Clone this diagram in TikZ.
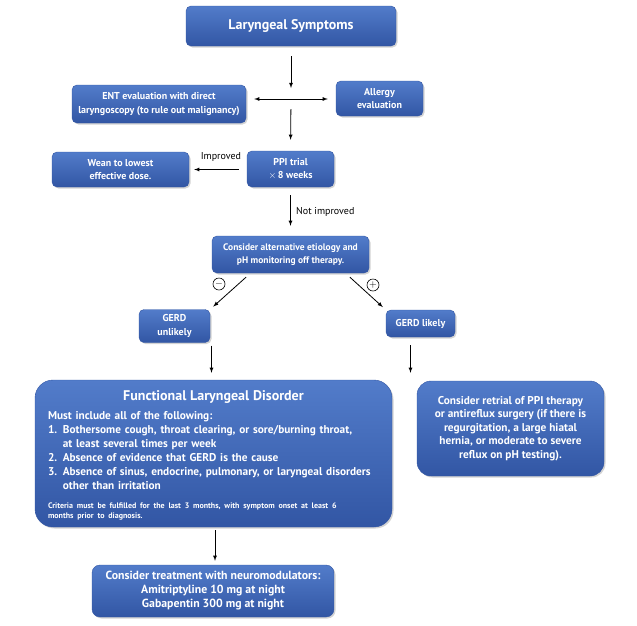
\documentclass[tikz,border=0pt]{standalone}
\usepackage{fontspec}
\setmainfont{PT Sans}
\usetikzlibrary{shadows}

\definecolor{boxtop}{RGB}{82,124,202}
\definecolor{boxbot}{RGB}{50,86,164}

\tikzset{
    flowbox/.style = {rounded corners=5pt, top color=boxtop, bottom color=boxbot,
        draw=boxbot, text=white, align=center, inner sep=0pt,
        font=\bfseries\fontsize{10}{13.5}\selectfont,
        drop shadow={shadow xshift=1.5pt, shadow yshift=-1.5pt, opacity=0.35}},
    flowarrow/.style = {-latex, line width=0.8pt},
    signnode/.style = {draw, circle, inner sep=0pt, minimum size=12pt, line width=0.6pt}
}

\begin{document}
\begin{tikzpicture}[x=1pt, y=-1pt]
    \useasboundingbox (0,0) rectangle (637,625);

    % top row
    \node [flowbox, minimum width=210pt, minimum height=40pt,
        font=\bfseries\fontsize{14}{16}\selectfont] (symptoms) at (291,26) {Laryngeal Symptoms};
    \node [flowbox, minimum width=174pt, minimum height=38pt] (ent) at (159,104)
        {ENT evaluation with direct\\laryngoscopy (to rule out malignancy)};
    \node [flowbox, minimum width=87pt, minimum height=35pt] (allergy) at (379.5,98.5)
        {Allergy\\evaluation};
    \coordinate (split) at (291,99);

    % PPI trial
    \node [flowbox, minimum width=87pt, minimum height=36pt] (ppi) at (290.5,169)
        {PPI trial\\$\times$\,8 weeks};
    \node [flowbox, minimum width=137pt, minimum height=35pt] (wean) at (120.5,169.5)
        {Wean to lowest\\effective dose.};
    \node [flowbox, minimum width=157pt, minimum height=37pt,
        font=\bfseries\fontsize{9.5}{13.5}\selectfont] (alt) at (290.5,254.5)
        {Consider alternative etiology and\\pH monitoring off therapy.};

    % GERD branches
    \node [flowbox, minimum width=71pt, minimum height=33pt] (gerdno) at (174.5,326)
        {GERD\\unlikely};
    \node [flowbox, minimum width=69pt, minimum height=27pt] (gerdyes) at (420.5,323.5)
        {GERD likely};
    \node [signnode] (minus) at (219,284) {$-$};
    \node [signnode] (plus) at (373,285) {$+$};

    % functional laryngeal disorder
    \node [flowbox, rounded corners=18pt, minimum width=357pt, minimum height=147pt,
        text width=331pt, align=left, font=\bfseries\fontsize{11.3}{14}\selectfont] (fld) at (213.5,453.5)
        {\makebox[\linewidth]{\rule{0pt}{14.5pt}\fontsize{14}{16}\selectfont Functional Laryngeal Disorder}\\[5pt]
        Must include all of the following:\\
        1. Bothersome cough, throat clearing, or sore/burning throat,\\
        \phantom{1. }at least several times per week\\
        2. Absence of evidence that GERD is the cause\\
        3. Absence of sinus, endocrine, pulmonary, or laryngeal disorders\\
        \phantom{3. }other than irritation\\[5pt]
        \parbox[t]{\linewidth}{\fontsize{8}{10}\selectfont Criteria must be fulfilled for the last 3 months, with symptom onset at least 6\\
        months prior to diagnosis.}};
    \node [flowbox, rounded corners=14pt, minimum width=187pt, minimum height=95pt,
        font=\bfseries\fontsize{11.3}{13.5}\selectfont] (retrial) at (510.5,428.5)
        {Consider retrial of PPI therapy\\or antireflux surgery (if there is\\regurgitation, a large hiatal\\hernia, or moderate to severe\\reflux on pH testing).};
    \node [flowbox, rounded corners=8pt, minimum width=242pt, minimum height=52pt,
        font=\bfseries\fontsize{11.8}{14}\selectfont] (neuro) at (213,591)
        {Consider treatment with neuromodulators:\\Amitriptyline 10 mg at night\\Gabapentin 300 mg at night};

    % connectors
    \draw [flowarrow, shorten <=10pt, shorten >=11pt] (symptoms.south) -- (split);
    \draw [latex-latex, line width=0.8pt, shorten <=8pt, shorten >=8pt] (ent.east |- split) -- (allergy.west |- split);
    \draw [flowarrow, shorten <=10pt, shorten >=11pt] (split) -- (ppi.north);
    \draw [flowarrow, shorten <=8pt, shorten >=5pt] (ppi.west |- wean.east) -- (wean.east)
        node [pos=0.45, above=4pt, text=black, font=\fontsize{10}{12}\selectfont] {Improved};
    \draw [flowarrow, shorten <=8pt, shorten >=10pt] (ppi.south) -- (alt.north)
        node [midway, right=2pt, text=black, font=\fontsize{10}{12}\selectfont] {Not improved};
    \draw [flowarrow, shorten <=6pt, shorten >=4pt] ([xshift=-40pt]alt.south) -- (gerdno.north east);
    \draw [flowarrow, shorten <=6pt, shorten >=4pt] ([xshift=55pt]alt.south) -- (gerdyes.north west);
    \draw [flowarrow, shorten <=3pt, shorten >=7pt] ([xshift=37pt]gerdno.south) -- ([xshift=37pt]gerdno.south |- fld.north);
    \draw [flowarrow, shorten <=8pt, shorten >=8pt] ([xshift=-10pt]gerdyes.south) -- ([xshift=-10pt]gerdyes.south |- retrial.north);
    \draw [flowarrow, shorten <=3pt, shorten >=4pt] ([xshift=1.5pt]fld.south) -- ([xshift=1.5pt]fld.south |- neuro.north);
\end{tikzpicture}
\end{document}
